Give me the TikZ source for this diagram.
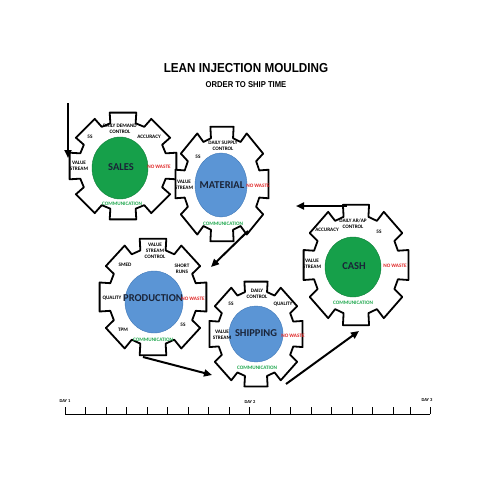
\documentclass[tikz,border=0pt]{standalone}
\usepackage{fontspec}
\setmainfont{Carlito}
\newfontfamily\titlefont[FakeStretch=0.9]{Liberation Sans}
\usetikzlibrary{arrows.meta}
\definecolor{gblue}{HTML}{5B95D5}
\definecolor{gblueline}{HTML}{3F78B8}
\definecolor{ggreen}{HTML}{16A04A}
\definecolor{ggreenline}{HTML}{0E7E38}
\definecolor{coretext}{HTML}{1A2438}
\definecolor{wastered}{HTML}{E02424}
\definecolor{commgreen}{HTML}{1FA84E}
\tikzset{
  gearline/.style={line width=1.8pt, line join=round, draw=black, fill=white},
  lbl/.style={font=\bfseries\fontsize{5.2}{5.8}\selectfont, inner sep=0pt, align=center, text=black},
  waste/.style={lbl, text=wastered},
  comm/.style={lbl, text=commgreen},
  core/.style={font=\bfseries\fontsize{10.5}{11}\selectfont, inner sep=0pt, text=coretext},
  bluedisc/.style={fill=gblue, draw=gblueline, line width=0.4pt},
  greendisc/.style={fill=ggreen, draw=ggreenline, line width=0.4pt},
  flow/.style={line width=2pt, -{Triangle[length=8pt,width=7pt]}},
  daylbl/.style={font=\bfseries\fontsize{4.5}{5}\selectfont, inner sep=0pt},
}
\newcommand\mygear[4]{%
  \begin{scope}[shift={(#1,#2)}, xscale=#3, yscale=#4]
    \draw[gearline] (-16.5:0.81)
      \foreach \a in {0,45,...,315}{ -- (\a-16.5:0.81) -- (\a-14:1) -- (\a+14:1) -- (\a+16.5:0.81) -- (\a+28.5:0.81)} -- cycle;
  \end{scope}}
\begin{document}
\begin{tikzpicture}[x=1pt, y=-1pt]
\useasboundingbox[fill=white] (0,0) rectangle (495,495);

% title
\node[font=\titlefont\bfseries\fontsize{13}{15}\selectfont, inner sep=0pt] (title) at (246,68) {LEAN INJECTION MOULDING};
\node[font=\titlefont\bfseries\fontsize{8.5}{10}\selectfont, inner sep=0pt] (subtitle) at (246,85) {ORDER TO SHIP TIME};

% gears
\mygear{123}{166}{55}{55}
\mygear{222}{184}{48}{59}
\mygear{356}{265}{54}{62}
\mygear{153}{297}{55}{60}
\mygear{256}{334}{48}{54}

% discs
\draw[greendisc] (120,168) ellipse [x radius=28, y radius=31];
\draw[bluedisc] (221,185) ellipse [x radius=26, y radius=32];
\draw[greendisc] (353,267) ellipse [x radius=28, y radius=30];
\draw[bluedisc] (154,302) ellipse [x radius=29, y radius=31];
\draw[bluedisc] (256,334) ellipse [x radius=27, y radius=28];

% Sales
\node[lbl] (s1) at (120,129) {DAILY DEMAND\\CONTROL};
\node[lbl] (s2) at (90,137) {5S};
\node[lbl] (s3) at (149,137) {ACCURACY};
\node[lbl] (s4) at (79,166) {VALUE\\STREAM};
\node[core] (s5) at (121,167) {SALES};
\node[waste] (s6) at (159,167) {NO WASTE};
\node[comm] (s7) at (122,204) {COMMUNICATION};

% Material
\node[lbl] (m1) at (223,146) {DAILY SUPPLY\\CONTROL};
\node[lbl] (m2) at (198,157) {5S};
\node[lbl] (m3) at (184,185) {VALUE\\STREAM};
\node[core] (m4) at (222,185) {MATERIAL};
\node[waste] (m5) at (258,186) {NO WASTE};
\node[comm] (m6) at (223,224) {COMMUNICATION};

% Cash
\node[lbl] (c1) at (353,224) {DAILY AR/AP\\CONTROL};
\node[lbl] (c2) at (327,230) {ACCURACY};
\node[lbl] (c3) at (379,232) {5S};
\node[lbl] (c4) at (312,264) {VALUE\\STREAM};
\node[core] (c5) at (354,266) {CASH};
\node[waste] (c6) at (395,266) {NO WASTE};
\node[comm] (c7) at (353,303) {COMMUNICATION};

% Production
\node[lbl] (p1) at (155,251) {VALUE\\STREAM\\CONTROL};
\node[lbl] (p2) at (125,265) {SMED};
\node[lbl] (p3) at (182,269) {SHORT\\RUNS};
\node[lbl] (p4) at (112,298) {QUALITY};
\node[core] (p5) at (153,298) {PRODUCTION};
\node[waste] (p6) at (193,299) {NO WASTE};
\node[lbl] (p7) at (123,330) {TPM};
\node[lbl] (p8) at (183,325) {5S};
\node[comm] (p9) at (153,340) {COMMUNICATION};

% Shipping
\node[lbl] (h1) at (257,294) {DAILY\\CONTROL};
\node[lbl] (h2) at (231,304) {5S};
\node[lbl] (h3) at (283,304) {QUALITY};
\node[lbl] (h4) at (222,335) {VALUE\\STREAM};
\node[core] (h5) at (256,333) {SHIPPING};
\node[waste] (h6) at (293,336) {NO WASTE};
\node[comm] (h7) at (257,368) {COMMUNICATION};

% flow arrows
\coordinate (a0s) at (68,103);  \coordinate (a0e) at (68,158);
\coordinate (a1s) at (347,206); \coordinate (a1e) at (296,206);
\coordinate (a2s) at (248,231); \coordinate (a2e) at (211,267);
\coordinate (a3s) at (143,357); \coordinate (a3e) at (212,375);
\coordinate (a4s) at (286,384); \coordinate (a4e) at (359,331);
\draw[flow] (a0s) -- (a0e);
\draw[flow] (a1s) -- (a1e);
\draw[flow] (a2s) -- (a2e);
\draw[flow] (a3s) -- (a3e);
\draw[flow] (a4s) -- (a4e);

% timeline
\coordinate (t0) at (65,414);
\coordinate (t1) at (430,414);
\draw[line width=1pt] (t0) -- (t1);
\foreach \x in {65,85.5,106,126.5,147,167.5,188,208.5,229,249.5,270,290.5,311,331.5,352,372.5,393,410,430}
  \draw[line width=0.9pt] (\x,414) -- (\x,406.5);
\node[daylbl] (d1) at (65,401) {DAY 1};
\node[daylbl] (d2) at (250,402) {DAY 2};
\node[daylbl] (d3) at (427,400) {DAY 3};
\end{tikzpicture}
\end{document}
